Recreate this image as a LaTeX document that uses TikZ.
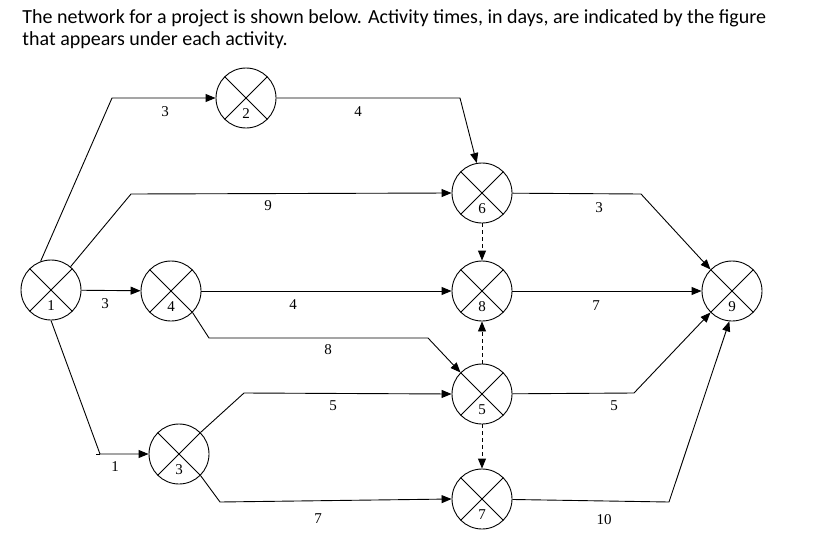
\documentclass[tikz,border=0pt]{standalone}
\usepackage{fontspec}
\setmainfont{Liberation Serif}
\newfontfamily\hdr{Carlito}
\usetikzlibrary{arrows.meta,calc}
\begin{document}
\begin{tikzpicture}[x=1pt,y=-1pt,line width=0.9pt,
  arr/.style={-{Triangle[length=10pt,width=8pt]}},
  dsh/.style={dash pattern=on 4pt off 3pt},
  lbl/.style={font=\fontsize{15}{17}\selectfont,inner sep=0pt},
  num/.style={font=\fontsize{15}{17}\selectfont,inner sep=0pt},
  evt/.style={circle,draw,minimum size=60pt,inner sep=0pt}]
\useasboundingbox (0,0) rectangle (824,543);
\node[anchor=north west,font=\hdr\fontsize{20}{22}\selectfont,align=left,inner sep=0pt] (hd) at (22,9)
 {The network for a project is shown below. Activity times, in days, are indicated by the figure\\that appears under each activity.};
\newcommand\evnode[3]{%
  \node[evt] (n#1) at (#2,#3) {};
  \draw ($(n#1.center)+(-21.2,-21.2)$) -- ($(n#1.center)+(21.2,21.2)$);
  \draw ($(n#1.center)+(21.2,-21.2)$) -- ($(n#1.center)+(-21.2,21.2)$);
  \node[num] (t#1) at ($(n#1.center)+(0,16)$) {#1};}
\evnode{1}{51}{290}
\evnode{2}{246}{98}
\evnode{6}{482}{193}
\evnode{4}{171}{291}
\evnode{8}{482}{291}
\evnode{9}{732}{291}
\evnode{5}{482}{394}
\evnode{3}{179}{454}
\evnode{7}{482}{499}
\coordinate (a1) at (112,98);
\coordinate (a2) at (460,98);
\coordinate (a3) at (131,194);
\coordinate (a4) at (641,194);
\coordinate (a5) at (209,338);
\coordinate (a6) at (428,338);
\coordinate (a7) at (100,454);
\coordinate (a8) at (244,393);
\coordinate (a9) at (220,502);
\coordinate (a10) at (634,393);
\coordinate (a11) at (669,502);
\draw[arr] (n1.110) -- (a1) -- (n2);
\draw[arr] (n2) -- (a2) -- (n6.100);
\draw[arr] (n1.50) -- (a3) -- (n6.180);
\draw[arr] (n6) -- (a4) -- (n9.135);
\draw[arr,dsh] (n6) -- (n8);
\draw[arr] (n1) -- (n4);
\draw[arr] (n4) -- (n8);
\draw[arr] (n8) -- (n9);
\draw[arr] (n4.-45) -- (a5) -- (a6) -- (n5.135);
\draw[arr] (n1.-90) -- (a7) -- (n3.180);
\draw (a7) -- ++(-4,0);
\draw[arr] (n3.45) -- (a8) -- (n5.180);
\draw[arr] (n3.-45) -- (a9) -- (n7.180);
\draw[arr,dsh] (n5) -- (n8);
\draw[arr,dsh] (n5) -- (n7);
\draw[arr] (n5) -- (a10) -- (n9.-135);
\draw[arr] (n7) -- (a11) -- (n9.-95);
\node[lbl] (l12) at (165,112) {3};
\node[lbl] (l26) at (358,112) {4};
\node[lbl] (l16) at (268,206) {9};
\node[lbl] (l69) at (599,208) {3};
\node[lbl] (l14) at (105,304) {3};
\node[lbl] (l48) at (293,305) {4};
\node[lbl] (l89) at (596,306) {7};
\node[lbl] (l45) at (328,350) {8};
\node[lbl] (l13) at (115,467) {1};
\node[lbl] (l35) at (333,406) {5};
\node[lbl] (l59) at (614,406) {5};
\node[lbl] (l37) at (318,519) {7};
\node[lbl] (l79) at (604,520) {10};
\end{tikzpicture}
\end{document}
